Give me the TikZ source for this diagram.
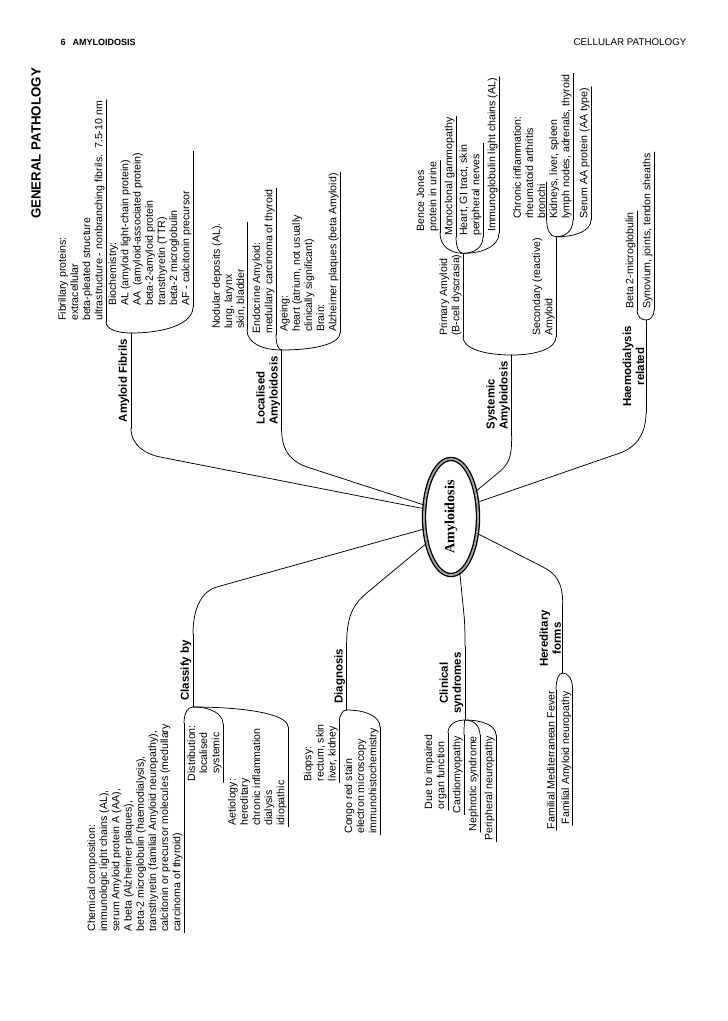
\documentclass[tikz,border=0pt]{standalone}
\usepackage{fontspec}
\setmainfont{Liberation Sans}
\newfontfamily\hubserif{Liberation Serif}
\usetikzlibrary{shapes.geometric, calc}

\newcommand\leaffont{\fontsize{10.6}{12.2}\selectfont}
\newcommand\topicfont{\fontsize{11.5}{13}\selectfont\bfseries}

\tikzset{
    leaf/.style={rotate=90, anchor=south west, align=left, font=\leaffont,
                 inner xsep=1pt, inner ysep=1.2pt},
    topic/.style={rotate=90, align=left, font=\topicfont,
                  inner xsep=6pt, inner ysep=1.5pt},
    limb/.style={line width=0.75pt, line cap=round},
    hub/.style={ellipse, draw=black, line width=1.3pt, double=gray!70,
                double distance=1.8pt, minimum width=54pt,
                minimum height=116pt, inner sep=0pt, fill=white},
}

% bracket from a junction to the end of an underline
\newcommand\mmfork[2]{%
    \draw[limb] let \p1=(#1), \p2=(#2) in
        (\p1) .. controls ({0.45*\x1+0.55*\x2},\y1)
                      and (\x2,{0.35*\y2+0.65*\y1}) .. (\p2);}
% main branch: underline end -> knee -> hub
\newcommand\mmlimb[3]{%
    \draw[limb] let \p1=(#1), \p2=(#2) in
        (\p1) .. controls (\x1,{0.4*\y1+0.6*\y2})
                      and ($(\p2)!-14pt!(#3)$) .. (\p2) -- (#3);}

\begin{document}
\begin{tikzpicture}[x=1pt, y=-1pt]
    \useasboundingbox (0,0) rectangle (728,1021);

    % Running heads
    \node[anchor=base west, font=\fontsize{9}{10}\selectfont\bfseries]
        (folio) at (57,45.5) {6\hspace{7pt}AMYLOIDOSIS};
    \node[anchor=base east, font=\fontsize{9.8}{11}\selectfont]
        (runhead) at (690,45.5) {CELLULAR PATHOLOGY};
    \node[rotate=90, font=\fontsize{13.3}{15}\selectfont\bfseries]
        (section) at (36,143.5) {GENERAL PATHOLOGY};

    % Centre
    \node[hub] (hub) at (451,517)
        {\rotatebox{90}{\hubserif\fontsize{14}{16}\selectfont\bfseries Amyloidosis}};

    % Main branches
    \node[topic, anchor=south east] (fibrils) at (131,333) {Amyloid Fibrils};
    \node[topic, anchor=south east] (localised) at (281.7,350) {Localised\\Amyloidosis};
    \node[topic, anchor=south east] (systemic) at (511.7,355) {Systemic\\Amyloidosis};
    \node[topic, anchor=south east, align=center] (haemo) at (646,320) {Haemodialysis\\related};
    \node[topic, anchor=south west] (classify) at (193,707) {Classify by};
    \node[topic, anchor=south west] (diagnosis) at (346.7,710) {Diagnosis};
    \node[topic, anchor=south west, align=center] (clinical) at (465,720) {Clinical\\syndromes};
    \node[topic, anchor=south west, align=center] (hereditary) at (562.7,673) {Hereditary\\forms};

    % Amyloid fibrils
    \node[leaf] (fibprot) at (106,322) {Fibrillary proteins:\\extracellular\\beta-pleated structure\\ultrastructure - nonbranching fibrils.\ \ 7.5-10 nm};
    \node[leaf] (biochem) at (193,307) {Biochemistry:\\AL (amyloid light-chain protein)\\AA\ \ (amyloid-associated protein)\\beta-2-amyloid protein\\transthyretin (TTR)\\beta-2 microglobulin\\AF - calcitonin precursor};

    % Localised
    \node[leaf] (nodular) at (247,330) {Nodular deposits (AL).\\lung, larynx\\skin, bladder};
    \node[leaf] (endocrine) at (276,335) {Endocrine Amyloid:\\medullary carcinoma of thyroid};
    \node[leaf] (ageing) at (340,333) {Ageing:\\heart (atrium, not usually\\clinically significant)\\Brain:\\Alzheimer plaques (beta Amyloid)};

    % Systemic
    \node[leaf] (primary) at (463,337) {Primary Amyloid\\(B-cell dyscrasia)};
    \node[leaf] (secondary) at (556,337) {Secondary (reactive)\\Amyloid};
    \node[leaf] (bence) at (440,233) {Bence Jones\\protein in urine};
    \node[leaf] (mono) at (456,237) {Monoclonal gammopathy};
    \node[leaf] (heartgi) at (483,237) {Heart, GI tract, skin\\peripheral nerves};
    \node[leaf] (immuno) at (499,233) {Immunoglobulin light chains (AL)};
    \node[leaf] (chronic) at (546.7,220) {Chronic inflammation:\\rheumatoid arthritis\\bronchi};
    \node[leaf] (kidneys) at (573,220) {Kidneys, liver, spleen\\lymph nodes, adrenals, thyroid};
    \node[leaf] (serum) at (591,220) {Serum AA protein (AA type)};

    % Haemodialysis
    \node[leaf] (beta2) at (637,310) {Beta 2-microglobulin};
    \node[leaf] (synov) at (654,310) {Synovium, joints, tendon sheaths};

    % Classify by
    \node[leaf, anchor=south east] (chem) at (184,723) {Chemical composition:\\immunologic light chains (AL),\\serum Amyloid protein A (AA),\\A beta (Alzheimer plaques),\\beta-2 microglobulin (haemodialysis),\\transthyretin (familial Amyloid neuropathy),\\calcitonin or precursor molecules (medullary\\carcinoma of thyroid)};
    \node[leaf, anchor=south east, align=center] (distrib) at (223,724) {Distribution:\\localised\\systemic};
    \node[leaf, anchor=south east] (aetiol) at (288,727) {Aetiology:\\hereditary\\chronic inflammation\\dialysis\\idiopathic};

    % Diagnosis
    \node[leaf, anchor=south east] (biopsy) at (339.3,723) {Biopsy:\\rectum, skin\\liver, kidney};
    \node[leaf, anchor=south east] (congo) at (380,727) {Congo red stain\\electron microscopy\\immunohistochemistry};

    % Clinical syndromes
    \node[leaf, anchor=south east] (dueto) at (448,733) {Due to impaired\\organ function};
    \node[leaf, anchor=south east] (cardio) at (464,735) {Cardiomyopathy};
    \node[leaf, anchor=south east] (nephro) at (480,735) {Nephrotic syndrome};
    \node[leaf, anchor=south east] (periph) at (496,735) {Peripheral neuropathy};

    % Hereditary forms
    \node[leaf, anchor=south east] (fmf) at (556,690) {Familial Mediterranean Fever};
    \node[leaf, anchor=south east] (fan) at (572.7,690) {Familial Amyloid neuropathy};

    % Underlines
    \foreach \nd in {fibrils, localised, systemic, haemo, classify, diagnosis,
                    clinical, hereditary, fibprot, biochem, nodular, endocrine,
                    ageing, primary, secondary, bence, mono, heartgi, immuno,
                    kidneys, serum, beta2, synov, chem, distrib, aetiol,
                    biopsy, congo, dueto, cardio, nephro, periph, fmf, fan}
        \draw[limb] (\nd.south west) -- (\nd.south east);
    \draw[limb] (chronic.south west) -- ++(0,-38);

    % Branches to the centre
    \mmlimb{fibrils.south west}{160,457}{hub.163}
    \mmlimb{localised.south west}{307,467}{hub.156}
    \mmlimb{systemic.south west}{498,473}{hub.46}
    \mmlimb{haemo.south west}{620,453}{hub.29}
    \mmlimb{classify.south east}{216.7,587}{hub.204}
    \mmlimb{diagnosis.south east}{366.7,593}{hub.227}
    \mmlimb{clinical.south east}{463,605}{hub.279}
    \mmlimb{hereditary.south east}{543,567}{hub.328}

    % Brackets
    \foreach \nd in {fibprot, biochem}
        {\mmfork{fibrils.south east}{\nd.south west}}
    \foreach \nd in {nodular, endocrine, ageing}
        {\mmfork{localised.south east}{\nd.south west}}
    \foreach \nd in {primary, secondary}
        {\mmfork{systemic.south east}{\nd.south west}}
    \foreach \nd in {bence, mono, heartgi, immuno}
        {\mmfork{primary.south east}{\nd.south west}}
    \foreach \nd in {chronic, kidneys, serum}
        {\mmfork{secondary.south east}{\nd.south west}}
    \foreach \nd in {beta2, synov}
        {\mmfork{haemo.south east}{\nd.south west}}
    \foreach \nd in {chem, distrib, aetiol}
        {\mmfork{classify.south west}{\nd.south east}}
    \foreach \nd in {biopsy, congo}
        {\mmfork{diagnosis.south west}{\nd.south east}}
    \foreach \nd in {dueto, cardio, nephro, periph}
        {\mmfork{clinical.south west}{\nd.south east}}
    \foreach \nd in {fmf, fan}
        {\mmfork{hereditary.south west}{\nd.south east}}
\end{tikzpicture}
\end{document}
